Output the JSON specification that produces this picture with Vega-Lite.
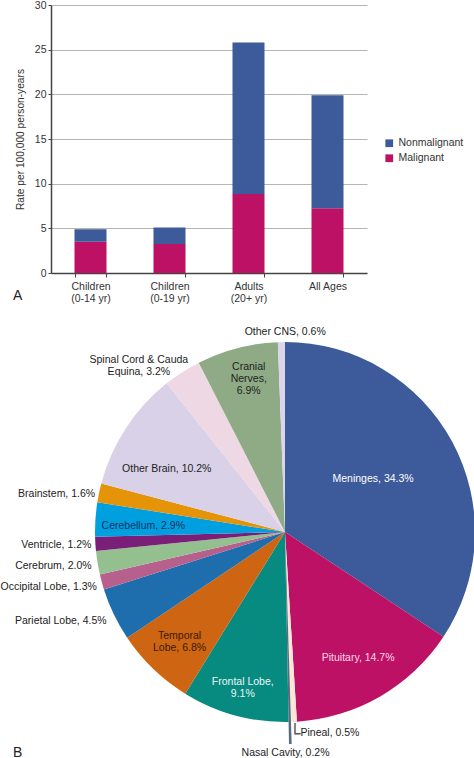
{"$schema":"https://vega.github.io/schema/vega-lite/v6.json","padding":{"left":0,"top":0,"right":0,"bottom":0},"bounds":"flush","spacing":69,"resolve":{"scale":{"color":"independent"},"legend":{"color":"independent"}},"config":{"view":{"stroke":null},"font":"Liberation Sans","text":{"font":"Liberation Sans"}},"vconcat":[{"width":316,"height":268,"title":{"text":"A","orient":"bottom","anchor":"start","frame":"group","dx":-38,"offset":-15,"fontSize":14,"fontWeight":"normal","color":"#222","font":"Liberation Sans"},"data":{"values":[{"group":"Children\n(0-14 yr)","type":"Malignant","rate":3.5,"o":0},{"group":"Children\n(0-14 yr)","type":"Nonmalignant","rate":1.4,"o":1},{"group":"Children\n(0-19 yr)","type":"Malignant","rate":3.25,"o":0},{"group":"Children\n(0-19 yr)","type":"Nonmalignant","rate":1.85,"o":1},{"group":"Adults\n(20+ yr)","type":"Malignant","rate":8.85,"o":0},{"group":"Adults\n(20+ yr)","type":"Nonmalignant","rate":16.95,"o":1},{"group":"All Ages","type":"Malignant","rate":7.25,"o":0},{"group":"All Ages","type":"Nonmalignant","rate":12.65,"o":1}]},"mark":{"type":"bar","width":32},"encoding":{"x":{"field":"group","type":"nominal","sort":null,"scale":{"paddingInner":0.6,"paddingOuter":0.3},"axis":{"title":null,"labelAngle":0,"labelExpr":"split(datum.label,'\\n')","tickBand":"extent","labelFont":"Liberation Sans","labelFontSize":10.5,"labelColor":"#333","labelLineHeight":12,"labelPadding":4,"domainColor":"#444","domainWidth":1.5,"tickColor":"#444","tickSize":4,"labelLimit":100}},"y":{"field":"rate","type":"quantitative","stack":"zero","scale":{"domain":[0,30],"nice":false},"axis":{"title":"Rate per 100,000 person-years","titleFontSize":10.2,"titleFont":"Liberation Sans","titleFontWeight":"normal","titleColor":"#333","titlePadding":9,"values":[0,5,10,15,20,25,30],"labelFont":"Liberation Sans","labelFontSize":10.5,"labelColor":"#333","domainColor":"#444","domainWidth":1.5,"tickColor":"#444","tickSize":3,"grid":true,"gridColor":"#b5b5b5","gridWidth":1}},"color":{"field":"type","type":"nominal","scale":{"domain":["Nonmalignant","Malignant"],"range":["#3d5a9a","#bc1165"]},"legend":{"title":null,"orient":"none","legendX":333,"legendY":133,"symbolType":"square","symbolSize":60,"symbolStrokeWidth":0,"symbolOpacity":1,"labelFont":"Liberation Sans","labelFontSize":10.5,"labelColor":"#333","rowPadding":4}},"order":{"field":"o","type":"quantitative"}}},{"width":468,"height":380,"title":{"text":"B","orient":"bottom","anchor":"start","frame":"group","dx":-38,"offset":-12,"fontSize":14,"fontWeight":"normal","color":"#222","font":"Liberation Sans"},"data":{"values":[{"name":"Meninges","label":"Meninges, 34.3%","share":34.3,"rank":1},{"name":"Pituitary","label":"Pituitary, 14.7%","share":14.7,"rank":2},{"name":"Pineal","label":"Pineal, 0.5%","share":0.5,"rank":3},{"name":"Nasal Cavity","label":"Nasal Cavity, 0.2%","share":0.2,"rank":4},{"name":"Frontal Lobe","label":"Frontal Lobe,\n9.1%","share":9.1,"rank":5},{"name":"Temporal Lobe","label":"Temporal\nLobe, 6.8%","share":6.8,"rank":6},{"name":"Parietal Lobe","label":"Parietal Lobe, 4.5%","share":4.5,"rank":7},{"name":"Occipital Lobe","label":"Occipital Lobe, 1.3%","share":1.3,"rank":8},{"name":"Cerebrum","label":"Cerebrum, 2.0%","share":2.0,"rank":9},{"name":"Ventricle","label":"Ventricle, 1.2%","share":1.2,"rank":10},{"name":"Cerebellum","label":"Cerebellum, 2.9%","share":2.9,"rank":11},{"name":"Brainstem","label":"Brainstem, 1.6%","share":1.6,"rank":12},{"name":"Other Brain","label":"Other Brain, 10.2%","share":10.2,"rank":13},{"name":"Spinal Cord","label":"Spinal Cord & Cauda\nEquina, 3.2%","share":3.2,"rank":14},{"name":"Cranial Nerves","label":"Cranial\nNerves,\n6.9%","share":6.9,"rank":15},{"name":"Other CNS","label":"Other CNS, 0.6%","share":0.6,"rank":16}]},"encoding":{"theta":{"field":"share","type":"quantitative","stack":true,"scale":{"domain":[0,100],"nice":false}},"order":{"field":"rank","type":"quantitative"},"detail":{"field":"name","type":"nominal"}},"layer":[{"mark":{"type":"arc","outerRadius":190,"innerRadius":0},"encoding":{"color":{"field":"name","type":"nominal","legend":null,"scale":{"domain":["Meninges","Pituitary","Pineal","Nasal Cavity","Frontal Lobe","Temporal Lobe","Parietal Lobe","Occipital Lobe","Cerebrum","Ventricle","Cerebellum","Brainstem","Other Brain","Spinal Cord","Cranial Nerves","Other CNS"],"range":["#3d5a9a","#bc1165","#fbe6d8","#5a6a80","#078a80","#cd6512","#1e6dad","#b8608d","#93c08e","#7a1f78","#00a0e0","#e59308","#d8d1e8","#eed8e4","#8fab85","#dcd4ea"]}}}},{"mark":{"type":"arc","outerRadius":212,"innerRadius":190},"encoding":{"fill":{"condition":{"test":"datum.name==='Nasal Cavity'","value":"#5a6a80"},"value":"transparent"}}},{"mark":{"type":"text","radius":100,"dy":-6,"fontSize":10.5,"color":"#fff"},"encoding":{"text":{"condition":{"test":"datum.name==='Meninges'","field":"label"},"value":""}}},{"mark":{"type":"text","radius":146,"fontSize":10.5,"color":"#fbd9e8"},"encoding":{"text":{"condition":{"test":"datum.name==='Pituitary'","field":"label"},"value":""}}},{"mark":{"type":"text","radius":201,"dx":6,"align":"left","fontSize":10.5,"color":"#222"},"encoding":{"text":{"condition":{"test":"datum.name==='Pineal'","field":"label"},"value":""}}},{"mark":{"type":"text","radius":201,"dy":2,"fontSize":18,"font":"DejaVu Sans","color":"#555","align":"left","dx":-5},"encoding":{"text":{"condition":{"test":"datum.name==='Pineal'","value":"└"},"value":""}}},{"mark":{"type":"text","radius":220,"dx":-5,"dy":1,"fontSize":10.5,"color":"#222"},"encoding":{"text":{"condition":{"test":"datum.name==='Nasal Cavity'","field":"label"},"value":""}}},{"mark":{"type":"text","radius":160,"dy":-4.5,"lineBreak":"\n","lineHeight":12,"fontSize":10.5,"color":"#e8f7f5"},"encoding":{"text":{"condition":{"test":"datum.name==='Frontal Lobe'","field":"label"},"value":""}}},{"mark":{"type":"text","radius":152,"dy":-5.5,"lineBreak":"\n","lineHeight":12,"fontSize":10.5,"color":"#3a1a08"},"encoding":{"text":{"condition":{"test":"datum.name==='Temporal Lobe'","field":"label"},"value":""}}},{"mark":{"type":"text","radius":198,"dy":3,"align":"right","fontSize":10.5,"color":"#222"},"encoding":{"text":{"condition":{"test":"datum.name==='Parietal Lobe'","field":"label"},"value":""}}},{"mark":{"type":"text","radius":195,"dy":4,"align":"right","fontSize":10.5,"color":"#222"},"encoding":{"text":{"condition":{"test":"datum.name==='Occipital Lobe'","field":"label"},"value":""}}},{"mark":{"type":"text","radius":196,"dy":2,"align":"right","fontSize":10.5,"color":"#222"},"encoding":{"text":{"condition":{"test":"datum.name==='Cerebrum'","field":"label"},"value":""}}},{"mark":{"type":"text","radius":194,"dy":1,"align":"right","fontSize":10.5,"color":"#222"},"encoding":{"text":{"condition":{"test":"datum.name==='Ventricle'","field":"label"},"value":""}}},{"mark":{"type":"text","radius":142,"dy":3,"fontSize":10.5,"color":"#12315e"},"encoding":{"text":{"condition":{"test":"datum.name==='Cerebellum'","field":"label"},"value":""}}},{"mark":{"type":"text","radius":194,"dy":2,"align":"right","fontSize":10.5,"color":"#222"},"encoding":{"text":{"condition":{"test":"datum.name==='Brainstem'","field":"label"},"value":""}}},{"mark":{"type":"text","radius":140,"dy":13,"dx":-1,"fontSize":10.5,"color":"#222"},"encoding":{"text":{"condition":{"test":"datum.name==='Other Brain'","field":"label"},"value":""}}},{"mark":{"type":"text","radius":198,"dx":-39,"dy":-5,"lineBreak":"\n","lineHeight":12,"fontSize":10.5,"color":"#222"},"encoding":{"text":{"condition":{"test":"datum.name==='Spinal Cord'","field":"label"},"value":""}}},{"mark":{"type":"text","radius":160,"dx":4,"dy":-10,"lineBreak":"\n","lineHeight":12,"fontSize":10.5,"color":"#222"},"encoding":{"text":{"condition":{"test":"datum.name==='Cranial Nerves'","field":"label"},"value":""}}},{"mark":{"type":"text","radius":201,"dx":4,"dy":1,"fontSize":10.5,"color":"#222"},"encoding":{"text":{"condition":{"test":"datum.name==='Other CNS'","field":"label"},"value":""}}}]}]}
